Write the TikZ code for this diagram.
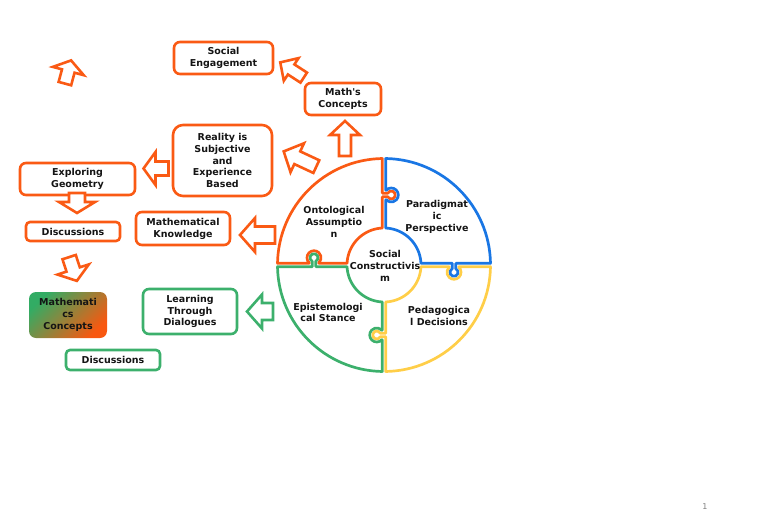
\documentclass[tikz,border=0pt]{standalone}
\usepackage{fontspec}
\setmainfont{DejaVu Sans}
\definecolor{corange}{RGB}{250,90,20}
\definecolor{cblue}{RGB}{25,118,228}
\definecolor{cyellow}{RGB}{255,206,72}
\definecolor{cgreen}{RGB}{60,176,108}
\definecolor{ctext}{RGB}{20,20,20}
\definecolor{mgreen}{RGB}{50,172,100}
\definecolor{morange}{RGB}{248,88,16}
\newcommand{\dtext}{\fontsize{9.5}{11.9}\selectfont\bfseries}
\newcommand{\blockarr}[8]{%
  \begin{scope}[shift={(#1,#2)}, rotate=#3, y=1pt]
    \draw[blockstyle, draw=#8] ({-#4/2},{-#7/2}) -- ({#4/2-#5},{-#7/2}) -- ({#4/2-#5},{-#6/2})
      -- ({#4/2},0) -- ({#4/2-#5},{#6/2}) -- ({#4/2-#5},{#7/2}) -- ({-#4/2},{#7/2}) -- cycle;
  \end{scope}}
\newcommand{\puzzlepiece}[2]{%
  \begin{scope}[shift={(384,265)}, y=1pt, rotate=#1]
    \draw[piecestyle, draw=#2] (92.63:37) -- (-1.7,68.2) -- (3.73,68.2)
      arc[start angle=206.7, end angle=513.3, radius=4pt] -- (-1.7,71.8)
      -- (90.915:106.5) arc[start angle=90.915, end angle=179.085, radius=106.5pt]
      -- (-74.8,1.7) -- (-74.8,2.2) arc[start angle=226.7, end angle=-46.7, radius=7pt]
      -- (-65.2,1.7) -- (177.37:37) arc[start angle=177.37, end angle=92.63, radius=37pt] -- cycle;
  \end{scope}}
\tikzset{
  box/.style={draw=corange, line width=2.6pt, rounded corners=6pt, align=center, inner sep=0pt,
    font=\dtext, text=ctext},
  gbox/.style={box, draw=cgreen},
  lbl/.style={align=center, inner sep=0pt, font=\dtext, text=ctext},
  blockstyle/.style={line width=2.6pt, fill=white, line join=miter},
  piecestyle/.style={line width=2.7pt, line join=round},
}
\begin{document}
\begin{tikzpicture}[x=1pt, y=-1pt]
\useasboundingbox (0,0) rectangle (768,532);

% puzzle
\puzzlepiece{0}{corange}
\puzzlepiece{90}{cgreen}
\puzzlepiece{180}{cyellow}
\puzzlepiece{270}{cblue}

\node[lbl] (onto) at (334,222) {Ontological\\Assumptio\\n};
\node[lbl] (para) at (437,217) {Paradigmat\\ic\\Perspective};
\node[lbl] (soccon) at (385,266) {Social\\Constructivis\\m};
\node[lbl] (epis) at (328,312.5) {Epistemologi\\cal Stance};
\node[lbl] (peda) at (439,316) {Pedagogica\\l Decisions};

% boxes
\node[box, minimum width=99, minimum height=32] (soc) at (223.5,58) {Social\\Engagement};
\node[box, minimum width=76, minimum height=32] (mathc) at (343,99) {Math\textquotesingle s\\Concepts};
\node[box, minimum width=99, minimum height=71, rounded corners=10pt] (real) at (222.5,160.5) {Reality is\\Subjective\\and\\Experience\\Based};
\node[box, minimum width=115, minimum height=32] (expl) at (77.5,179) {Exploring\\Geometry};
\node[box, minimum width=94, minimum height=19, rounded corners=4pt] (disc1) at (73,231.5) {Discussions};
\node[box, minimum width=94, minimum height=33] (mathk) at (183,228.5) {Mathematical\\Knowledge};
\node[lbl, minimum width=78, minimum height=46, rounded corners=7pt, top color=mgreen, bottom color=morange, shading angle=45] (mcon) at (68,315) {Mathemati\\cs\\Concepts};
\node[gbox, minimum width=94, minimum height=45] (learn) at (190,311.5) {Learning\\Through\\Dialogues};
\node[gbox, minimum width=94, minimum height=20, rounded corners=4pt] (disc2) at (113,360) {Discussions};

% block arrows: x y angle length headlength headwidth shaftwidth colour
\blockarr{68}{72}{75}{24}{11}{32}{13}{corange}
\blockarr{292}{70}{147}{28}{13}{27}{12}{corange}
\blockarr{345}{138.5}{90}{35}{14}{30}{12}{corange}
\blockarr{300}{159}{155}{36}{15}{32}{14}{corange}
\blockarr{156}{168.5}{180}{25}{12}{33}{14}{corange}
\blockarr{77}{203}{-90}{20}{11}{36}{16}{corange}
\blockarr{73}{269}{-72}{25}{12}{33}{14}{corange}
\blockarr{257.5}{235}{180}{35}{15}{34}{17}{corange}
\blockarr{260}{311.5}{180}{26}{15}{34}{17}{cgreen}

\node[inner sep=0pt, font=\fontsize{8}{9}\selectfont, text=gray] (pnum) at (705,507) {1};
\end{tikzpicture}
\end{document}
